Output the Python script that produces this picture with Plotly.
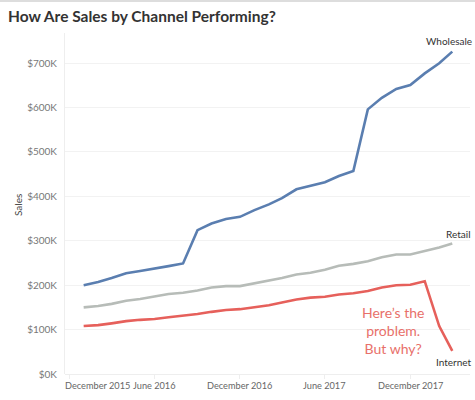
import plotly.graph_objects as go

months = ["2016-01-01","2016-02-01","2016-03-01","2016-04-01","2016-05-01","2016-06-01",
          "2016-07-01","2016-08-01","2016-09-01","2016-10-01","2016-11-01","2016-12-01",
          "2017-01-01","2017-02-01","2017-03-01","2017-04-01","2017-05-01","2017-06-01",
          "2017-07-01","2017-08-01","2017-09-01","2017-10-01","2017-11-01","2017-12-01",
          "2018-01-01","2018-02-01","2018-03-01"]

wholesale = [200, 207, 216, 227, 232, 237, 243, 249, 324, 339, 349, 354,
             369, 382, 396, 416, 424, 432, 446, 457, 596, 622, 642, 651,
             677, 700, 726]
retail = [150, 153, 158, 165, 169, 174, 180, 183, 188, 195, 198, 198,
          204, 210, 216, 224, 228, 235, 244, 248, 254, 263, 269, 269,
          277, 285, 294]
internet = [108, 110, 114, 119, 122, 124, 128, 131, 135, 140, 144, 146,
            150, 155, 161, 168, 172, 174, 179, 182, 187, 195, 200, 201,
            209, 108, 52]

series_names = ["Wholesale", "Retail", "Internet"]
series_values = [wholesale, retail, internet]
colors = ["#5a7eb0", "#b7bcb8", "#e6605b"]

y_tick_vals = [0, 100, 200, 300, 400, 500, 600, 700]
y_tick_text = ["$0K", "$100K", "$200K", "$300K", "$400K", "$500K", "$600K", "$700K"]

x_tick_vals = ["2015-12-01", "2016-06-01", "2016-12-01", "2017-06-01", "2017-12-01"]
x_tick_text = ["December 2015", "June 2016", "December 2016", "June 2017", "December 2017"]

fig = go.Figure()
for name, vals, col in zip(series_names, series_values, colors):
    fig.add_trace(go.Scatter(
        x=months, y=[v * 1000 for v in vals], mode="lines", name=name,
        line=dict(color=col, width=2.6), hoverinfo="skip"))

# end-of-line labels
label_shifts = {"Wholesale": (-3, 3, "bottom"), "Retail": (6, 1, "bottom"), "Internet": (2, -3, "top")}
for name, vals in zip(series_names, series_values):
    dx, dy, ya = label_shifts[name]
    fig.add_annotation(x=months[-1], y=vals[-1] * 1000, text=name, showarrow=False,
                       xanchor="center", yanchor=ya, xshift=dx, yshift=dy,
                       font=dict(family="Lato", size=10, color="#333333"))

# x tick labels
for i, (tv, tt) in enumerate(zip(x_tick_vals, x_tick_text)):
    fig.add_annotation(x=tv, y=0, yref="paper", text=tt, showarrow=False,
                       xanchor="center", yanchor="top", yshift=-4,
                       xshift=28 if i == 0 else 0,
                       font=dict(family="Lato", size=9.2, color="#666666"))

# callout
fig.add_annotation(x="2017-10-01", y=99000, text="Here’s the<br>problem.<br>But why?",
                   showarrow=False, xanchor="center", yanchor="middle", xshift=11,
                   font=dict(family="Lato", size=14, color="#e8706a"))

# y axis title
fig.add_annotation(x=-47 / 405, xref="paper", y=(374 - 205) / 341, yref="paper",
                   text="Sales", textangle=-90, showarrow=False,
                   xanchor="center", yanchor="middle",
                   font=dict(family="Lato", size=10, color="#444444"))

fig.update_layout(
    width=475, height=400,
    margin=dict(l=65, r=5, t=33, b=26),
    paper_bgcolor="white", plot_bgcolor="white",
    showlegend=False,
    title=dict(text="<b>How Are Sales by Channel Performing?</b>", x=8 / 475, xanchor="left",
               xref="container", y=1 - 17 / 400, yanchor="middle", yref="container",
               font=dict(family="Lato", size=15.5, color="#333333")),
    xaxis=dict(type="date", range=["2015-11-22", "2018-04-08"], showgrid=False,
               tickvals=x_tick_vals, showticklabels=False, ticks="outside", ticklen=4,
               tickcolor="#eeeeee", showline=False, zeroline=False, fixedrange=True),
    yaxis=dict(range=[0, 768000], tickvals=[v * 1000 for v in y_tick_vals], ticktext=y_tick_text,
               showgrid=True, gridcolor="#f2f2f2", gridwidth=1, zeroline=True,
               zerolinecolor="#eeeeee", zerolinewidth=1, showline=True, linecolor="#eeeeee",
               tickfont=dict(family="Lato", size=10, color="#777777"), ticks="", ticklabelstandoff=5,
               fixedrange=True),
    shapes=[dict(type="line", xref="paper", yref="paper", x0=-65 / 405, x1=410 / 405,
                 y0=1 + 32 / 341, y1=1 + 32 / 341, line=dict(color="#dddddd", width=2))],
)

fig.write_html("out.html")
